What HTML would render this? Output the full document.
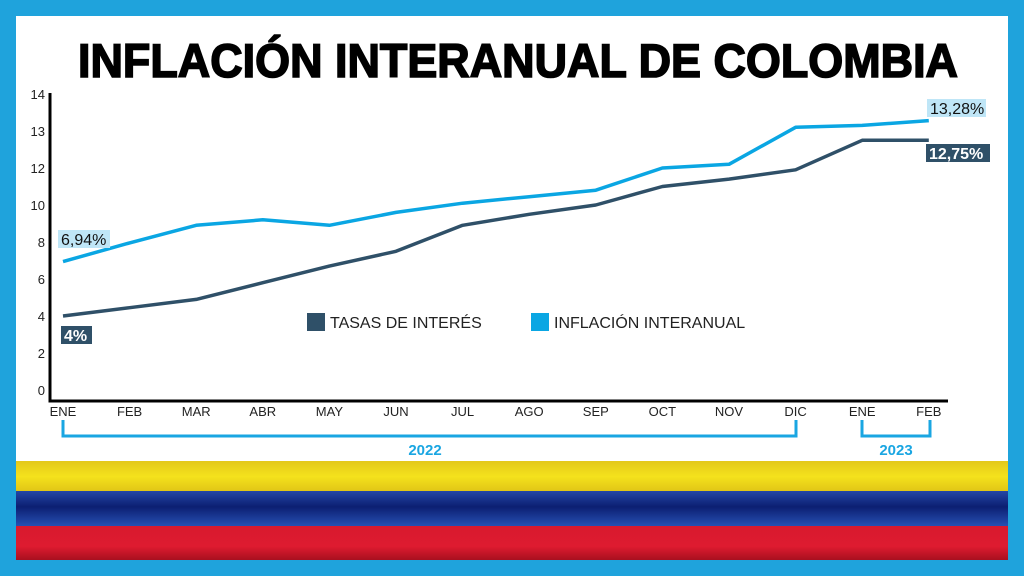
<!DOCTYPE html>
<html><head><meta charset="utf-8"><style>
html,body{margin:0;padding:0;background:#1fa3dc;}
svg{display:block;font-family:"Liberation Sans",sans-serif;}
</style></head><body>
<svg id="chart" width="1024" height="576" viewBox="0 0 1024 576" xmlns="http://www.w3.org/2000/svg">
<defs>
<linearGradient id="gy" x1="0" y1="0" x2="0" y2="1"><stop offset="0" stop-color="#e3c81a"/><stop offset="0.5" stop-color="#f4e21c"/><stop offset="1" stop-color="#e0c416"/></linearGradient>
<linearGradient id="gb" x1="0" y1="0" x2="0" y2="1"><stop offset="0" stop-color="#2447a6"/><stop offset="0.45" stop-color="#0c1f72"/><stop offset="1" stop-color="#2650b2"/></linearGradient>
<linearGradient id="gr" x1="0" y1="0" x2="0" y2="1"><stop offset="0" stop-color="#d81a2e"/><stop offset="0.6" stop-color="#de1b30"/><stop offset="1" stop-color="#a8101f"/></linearGradient>
</defs>
<rect x="0" y="0" width="1024" height="576" fill="#1fa3dc"/>
<rect x="16" y="16" width="992" height="446" fill="#ffffff"/>
<g>
<rect x="16" y="461" width="992" height="31" fill="url(#gy)"/>
<rect x="16" y="491" width="992" height="35" fill="url(#gb)"/>
<rect x="16" y="526" width="992" height="34" fill="url(#gr)"/>
</g>
<text x="78" y="77" font-size="47" font-weight="bold" fill="#000" stroke="#000" stroke-width="1.6" textLength="880" lengthAdjust="spacingAndGlyphs">INFLACIÓN INTERANUAL DE COLOMBIA</text>
<g id="axes"></g>
<g id="marks"></g>
<g>
<rect x="307" y="313" width="18" height="18" fill="#2f5068"/>
<text x="330" y="328" font-size="16" fill="#222">TASAS DE INTERÉS</text>
<rect x="531" y="313" width="18" height="18" fill="#0aa6e3"/>
<text x="554" y="328" font-size="16" fill="#222">INFLACIÓN INTERANUAL</text>
</g>
<g stroke="#1aa6e2" stroke-width="3" fill="none">
<path d="M63 420 V436 H796 V420"/>
<path d="M862 420 V436 H930 V420"/>
</g>
<text x="425" y="455" font-size="15" font-weight="bold" fill="#1aa6e2" text-anchor="middle">2022</text>
<text x="896" y="455" font-size="15" font-weight="bold" fill="#1aa6e2" text-anchor="middle">2023</text>
<g>
<rect x="58" y="230" width="52" height="18" fill="#bfe6f7"/>
<text x="61" y="245" font-size="16" fill="#111">6,94%</text>
<rect x="61" y="326" width="31" height="18" fill="#2f5068"/>
<text x="64" y="341" font-size="16" font-weight="bold" fill="#fff">4%</text>
<rect x="927" y="99" width="59" height="18" fill="#bfe6f7"/>
<text x="930" y="114" font-size="16" fill="#111">13,28%</text>
<rect x="926" y="144" width="64" height="18" fill="#2f5068"/>
<text x="929" y="159" font-size="16" font-weight="bold" fill="#fff">12,75%</text>
</g>
</svg>
<script>
const months = ["ENE","FEB","MAR","ABR","MAY","JUN","JUL","AGO","SEP","OCT","NOV","DIC","ENE","FEB"];
const inflacion = [6.94,7.95,8.9,9.2,8.9,9.6,10.1,10.45,10.8,12.0,12.1,13.1,13.15,13.28];
const tasas = [4.0,4.45,4.9,5.8,6.7,7.5,8.9,9.5,10.0,11.0,11.4,11.9,12.75,12.75];
const yTicks = [0,2,4,6,8,10,12,13,14];

const NS = "http://www.w3.org/2000/svg";
const y0 = 390, unitLow = 18.5, unitHigh = 37;
function yScale(v){ return v <= 12 ? y0 - v*unitLow : y0 - 12*unitLow - (v-12)*unitHigh; }
function xScale(i){ return 63 + i*66.6; }
function mk(tag, attrs, parent){ const e=document.createElementNS(NS,tag); for(const k in attrs) e.setAttribute(k,attrs[k]); parent.appendChild(e); return e; }

const axes = document.getElementById('axes');
const ya = mk('line',{x1:50,y1:93,x2:50,y2:402,stroke:'#000','stroke-width':3},axes);


const xa = mk('line',{x1:48.5,y1:401,x2:948,y2:401,stroke:'#000','stroke-width':3},axes);


yTicks.forEach(v=>{
  const t = mk('text',{x:45,y:yScale(v)+5,'font-size':13,fill:'#222','text-anchor':'end'},axes);
  t.textContent = v;
  
  
});
months.forEach((m,i)=>{
  const t = mk('text',{x:xScale(i),y:416,'font-size':13,fill:'#222','text-anchor':'middle'},axes);
  t.textContent = m;
  
  
});
const marks = document.getElementById('marks');
function line(vals,color,name){
  const d = vals.map((v,i)=>(i?'L':'M')+xScale(i).toFixed(1)+' '+yScale(v).toFixed(1)).join(' ');
  const p = mk('path',{d:d,fill:'none',stroke:color,'stroke-width':3.5,'stroke-linejoin':'round'},marks);
  
  
}
line(tasas,'#2f5068','tasas-line');
line(inflacion,'#0aa6e3','inflacion-line');
</script>
</body></html>
